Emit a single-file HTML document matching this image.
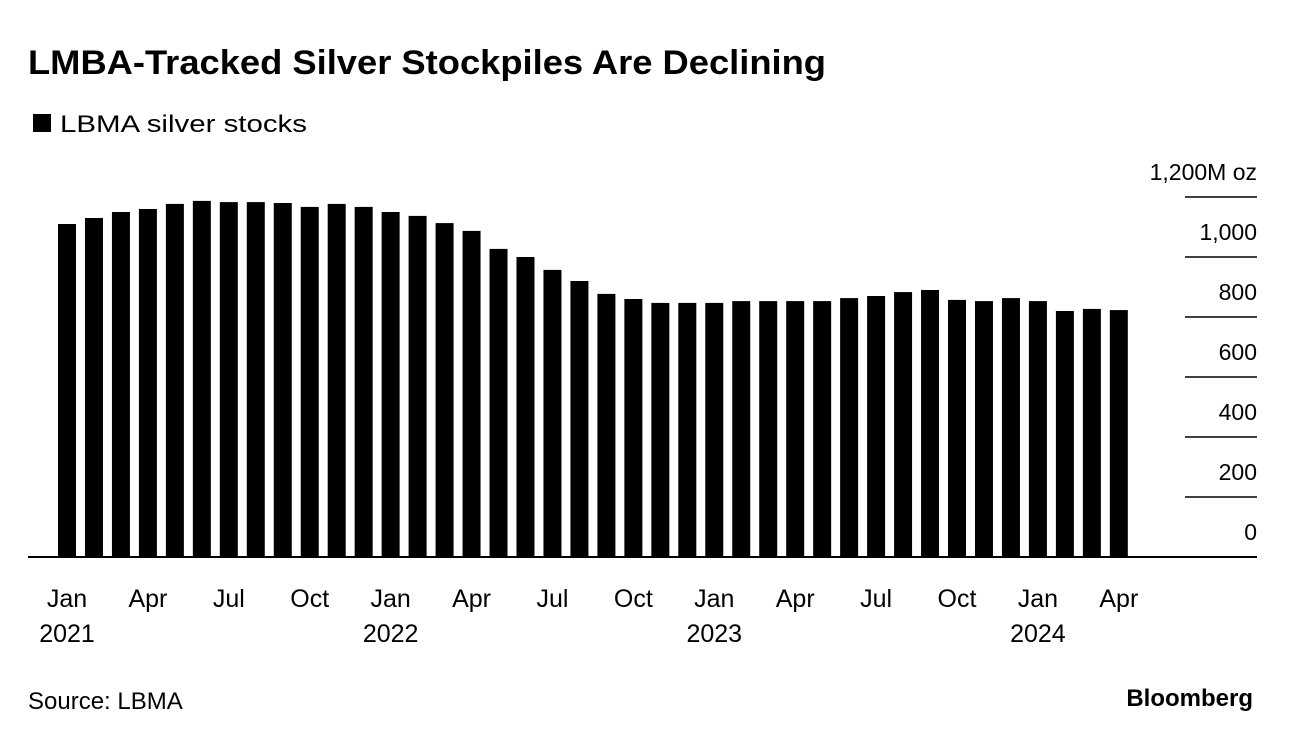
<!DOCTYPE html>
<html><head><meta charset="utf-8"><style>
body{margin:0;background:#fff;font-family:"Liberation Sans",sans-serif;}
svg text{font-family:"Liberation Sans",sans-serif;}
</style></head><body>
<svg width="1292" height="742" xmlns="http://www.w3.org/2000/svg">
<text x="28" y="74" font-size="34" font-weight="bold" textLength="798" lengthAdjust="spacingAndGlyphs">LMBA-Tracked Silver Stockpiles Are Declining</text>
<rect x="33" y="114" width="18" height="18" fill="#000"/>
<text x="60" y="132" font-size="24" textLength="247" lengthAdjust="spacingAndGlyphs">LBMA silver stocks</text>
<g id="grid"></g>
<g id="bars"></g>
<g id="xlabels"></g>
<text x="28" y="709" font-size="24">Source: LBMA</text>
<text x="1253" y="706" font-size="24" font-weight="bold" text-anchor="end">Bloomberg</text>
</svg>
<script>
const values=[1110,1130,1150,1160,1177,1187,1183,1183,1180,1167,1177,1167,1150,1137,1113,1087,1027,1000,957,920,877,860,847,847,847,853,853,853,853,863,870,883,890,857,853,863,853,820,827,823];
const yTicks=[0,200,400,600,800,1000,1200];
const xTickIdx=[0,3,6,9,12,15,18,21,24,27,30,33,36,39];
const xTickLabels=["Jan","Apr","Jul","Oct","Jan","Apr","Jul","Oct","Jan","Apr","Jul","Oct","Jan","Apr"];
const yearLabels={0:"2021",12:"2022",24:"2023",36:"2024"};
const NS="http://www.w3.org/2000/svg";
const y0=557,pxPer=0.3;
const y=v=>y0-v*pxPer;
const x=i=>67+i*26.97;
function mk(t,a,p){const e=document.createElementNS(NS,t);for(const k in a)e.setAttribute(k,a[k]);p.appendChild(e);return e;}
const grid=document.getElementById('grid');
yTicks.forEach(t=>{
 const l=mk('line',{x1:1185,x2:1257,y1:y(t),y2:y(t),stroke:'#000','stroke-width':1.5},grid);
 
 
 const tx=mk('text',{x:1257,y:y(t)-17,'font-size':23,'text-anchor':'end'},grid);
 tx.textContent=t===1200?'1,200M oz':t.toLocaleString('en-US');
 
 
});
const bars=document.getElementById('bars');
values.forEach((v,i)=>{
 const r=mk('rect',{x:x(i)-9,y:y(v),width:18,height:v*pxPer,fill:'#000'},bars);
 
 
});
const base=mk('line',{x1:28,x2:1257,y1:y0,y2:y0,stroke:'#000','stroke-width':2},bars);


const xl=document.getElementById('xlabels');
xTickIdx.forEach((idx,k)=>{
 const t=mk('text',{x:x(idx),y:607,'font-size':25,'text-anchor':'middle'},xl);
 t.textContent=xTickLabels[k];
 
 
 if(yearLabels[idx]){
  const yt=mk('text',{x:x(idx),y:642,'font-size':25,'text-anchor':'middle'},xl);
  yt.textContent=yearLabels[idx];
  
  
 }
});
</script>
</body></html>
